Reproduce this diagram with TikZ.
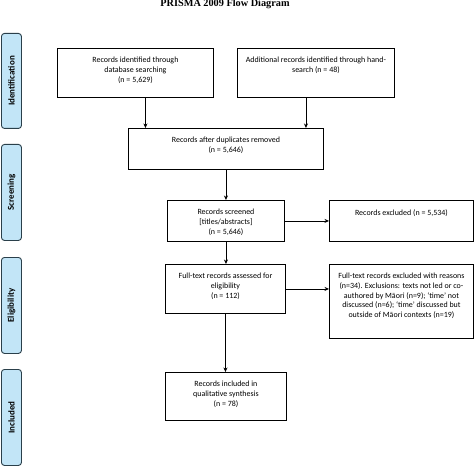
\documentclass[tikz,border=0pt]{standalone}
\usepackage{fontspec}
\setmainfont{Carlito}
\newfontfamily\titlefont{Liberation Serif}
\usetikzlibrary{calc,arrows.meta}
\definecolor{barfill}{HTML}{C2E5F7}
\definecolor{barline}{HTML}{2A3F4A}
\newcommand{\boxtxt}[3]{\parbox[c][#2][t]{#1}{\centering\fontsize{8}{9.6}\selectfont\vspace{9bp}#3\par}}
\begin{document}
\begin{tikzpicture}[x=1bp,y=-1bp,
  box/.style={draw=black, line width=0.9bp, inner sep=0pt, anchor=north west},
  bar/.style={draw=barline, fill=barfill, line width=0.9bp, rounded corners=3bp, anchor=north west, inner sep=0pt},
  barlabel/.style={rotate=90, font=\fontsize{9}{10}\selectfont\bfseries},
  arr/.style={-{Stealth[length=4.5bp,width=4bp]}, line width=0.9bp}]
\useasboundingbox (0,0) rectangle (474,466);
% title
\node[anchor=base, inner sep=0pt, font=\titlefont\fontsize{10.3}{12}\selectfont\bfseries] (title) at (225,7) {PRISMA 2009 Flow Diagram};
% side bars
\node[bar, minimum width=20bp, minimum height=95bp] (idbar) at (1,33) {};
\node[barlabel] (idlab) at (idbar.center) {Identification};
\node[bar, minimum width=20bp, minimum height=96bp] (scbar) at (1,144) {};
\node[barlabel] (sclab) at (scbar.center) {Screening};
\node[bar, minimum width=20bp, minimum height=96bp] (elbar) at (1,257) {};
\node[barlabel] (ellab) at (elbar.center) {Eligibility};
\node[bar, minimum width=20bp, minimum height=96bp] (inbar) at (1,369) {};
\node[barlabel] (inlab) at (inbar.center) {Included};
% boxes
\node[box] (b1) at (57,48) {\boxtxt{156bp}{49bp}{Records identified through\\database searching\\(n = 5,629)}};
\node[box] (b2) at (237,48) {\boxtxt{157bp}{49bp}{Additional records identified through hand-\\search (n = 48)}};
\node[box] (b3) at (128,128) {\boxtxt{195bp}{41bp}{Records after duplicates removed\\(n = 5,646)}};
\node[box] (b4) at (167,200) {\boxtxt{117bp}{41bp}{Records screened\\{[titles/abstracts]}\\(n = 5,646)}};
\node[box] (e1) at (329,200) {\boxtxt{144bp}{41bp}{Records excluded (n = 5,534)}};
\node[box] (b5) at (165,264) {\boxtxt{120bp}{49bp}{Full-text records assessed for\\eligibility\\(n = 112)}};
\node[box] (e2) at (329,264) {\boxtxt{144bp}{74bp}{Full-text records excluded with reasons\\(n=34). Exclusions: texts not led or co-\\authored by M\=aori (n=9); `time' not\\discussed (n=6); `time' discussed but\\outside of M\=aori contexts (n=19)}};
\node[box] (b6) at (165,372) {\boxtxt{121bp}{48bp}{Records included in\\qualitative synthesis\\(n = 78)}};
% connectors
\coordinate (a1) at ($(b1.south)+(10,0)$);
\coordinate (a2) at ($(b2.south)+(-10,0)$);
\draw[arr] (a1) -- (a1 |- b3.north);
\draw[arr] (a2) -- (a2 |- b3.north);
\draw[arr] (b3.south -| b4.north) -- (b4.north);
\draw[arr] (b4.east) -- (b4.east -| e1.west);
\draw[arr] (b4.south) -- (b4.south |- b5.north);
\draw[arr] (b5.east) -- (b5.east -| e2.west);
\draw[arr] (b5.south) -- (b5.south |- b6.north);
\end{tikzpicture}
\end{document}
